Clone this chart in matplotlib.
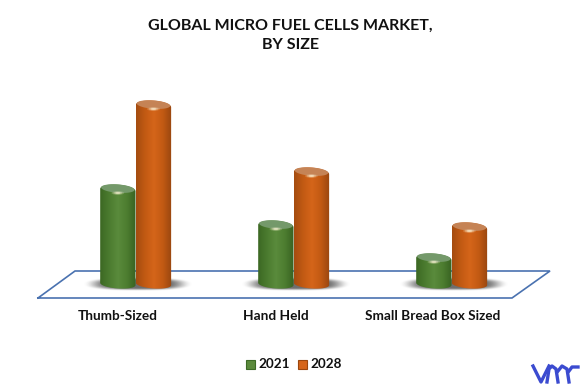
import numpy as np
import matplotlib
matplotlib.use("Agg")
import matplotlib.pyplot as plt
from matplotlib.patches import PathPatch, Rectangle
from matplotlib.path import Path
from matplotlib.colors import LinearSegmentedColormap

categories = ["Thumb-Sized", "Hand Held", "Small Bread Box Sized"]
years = ["2021", "2028"]
values_2021 = [94, 58, 25]
values_2028 = [178, 111, 56]
title = "GLOBAL MICRO FUEL CELLS MARKET,\nBY SIZE"

W, H = 581, 386
BAR_W = 0.2235
RX = BAR_W / 2
RY = 6.0
TILT_DATA = 1.2
plt.rcParams["font.family"] = ["Lato", "DejaVu Sans"]

fig = plt.figure(figsize=(W / 100, H / 100), dpi=100)
ax = fig.add_axes([0, 0, 1, 1])
xlim = (-135.5 / 158, (W - 135.5) / 158)
ylim = (284 - H, 284)
ax.axis("off")

# floor
ax.plot([(38 - 135.5) / 158, (75 - 135.5) / 158, (550 - 135.5) / 158, (512 - 135.5) / 158,
         (38 - 135.5) / 158], [-14, 13, 13, -14, -14], color="#4a72b0", lw=1.2, zorder=1,
        solid_joinstyle="miter")

# shadows
def shadow(c):
    xs = np.linspace(-1, 1, 240)
    ys = np.linspace(-1, 1, 60)
    X, Y = np.meshgrid(xs, ys)
    d = np.sqrt(np.abs(X) ** 2.6 + (np.abs(Y) * 1.0) ** 2.6)
    a = np.clip((1 - d) / 0.55, 0, 1)
    a = a * a * (3 - 2 * a)
    img = np.zeros(a.shape + (4,))
    img[..., :3] = 0.40
    img[..., 3] = a * 0.95
    ax.imshow(img, extent=(c - 0.33, c + 0.36, -7.5, 6.5), aspect="auto", zorder=2,
              interpolation="bilinear")

def cylinder(xc, v, stops, top_col):
    cmap = LinearSegmentedColormap.from_list("c", stops)
    grad = np.linspace(0, 1, 128)[None, :]
    left, right = xc - RX, xc + RX
    im = ax.imshow(grad, cmap=cmap, extent=(left, right, -6, v + 8), aspect="auto", zorder=3,
                   vmin=0, vmax=1, interpolation="bilinear")
    t = np.linspace(np.pi, 2 * np.pi, 40)
    bx = xc + RX * np.cos(t)
    by = RY * np.sin(t) * 0.75 - TILT_DATA * np.cos(t)
    tt = np.linspace(0, np.pi, 40)
    tx = xc + RX * np.cos(tt)
    ty = v + RY * np.sin(tt) * 0.9 - TILT_DATA * np.cos(tt)
    verts = list(zip(bx, by)) + list(zip(tx, ty)) + [(bx[0], by[0])]
    codes = [Path.MOVETO] + [Path.LINETO] * (len(verts) - 1)
    clip = PathPatch(Path(verts, codes), transform=ax.transData, fc="none", ec="none", lw=0.0)
    ax.add_patch(clip)
    im.set_clip_path(clip)
    # cap
    tt = np.linspace(0, 2 * np.pi, 60)
    ax.fill(xc + RX * 0.95 * np.cos(tt), v + 1.4 + RY * 0.70 * np.sin(tt) - TILT_DATA * np.cos(tt),
            color=top_col, zorder=5, lw=0)
    # soft highlight on the cap's front rim
    for scale, alpha in [(0.36, 0.2), (0.26, 0.35), (0.15, 0.7)]:
        ax.fill(xc + RX * scale * np.cos(tt), v - 3.0 + 1.9 * scale / 0.36 * np.sin(tt),
                color="#fff6d8", alpha=alpha, zorder=6, lw=0)

GREEN = ["#3c6823", "#4b7b2f", "#5a8b3c", "#4d7d30", "#386222"]
ORANGE = ["#a44c10", "#c25a13", "#d5651a", "#c25a13", "#984610"]
for i, (a, b) in enumerate(zip(values_2021, values_2028)):
    shadow(i)
    cylinder(i - BAR_W / 2, a, GREEN, "#74996a")
    cylinder(i + BAR_W / 2 + 0.002, b, ORANGE, "#c58355")

ax.set_xlim(*xlim)
ax.set_ylim(*ylim)

# category labels
for i, cat in enumerate(categories):
    ax.text([117.5, 275.5, 433][i] / 158 - 135.5 / 158, 284 - 316, cat, ha="center", va="center",
            fontsize=9.8, fontweight="bold", color="#111111")

fig.text(290.5 / W, 1 - 35.5 / H, title, ha="center", va="center", fontsize=11.5,
         fontweight="bold", color="#111111", linespacing=1.52)

# legend
for x0, x_txt, yr, col, col2 in [(246, 258.5, years[0], "#5b8a3c", "#3d6a26"),
                                 (298, 310.5, years[1], "#d6651a", "#9a460e")]:
    fig.add_artist(Rectangle((x0 / W, 1 - 369 / H), 9 / W, 9 / H, transform=fig.transFigure,
                             fc=col, ec=col2, lw=0.8))
    fig.text(x_txt / W, 1 - 364.5 / H, yr, ha="left", va="center", fontsize=9.7,
             fontweight="bold", color="#111111")

# logo
logo = [[(533, 366), (541, 382), (549, 366)],
        [(547, 382), (549, 369), (552, 366), (556, 369), (558, 382)],
        [(558, 371), (562, 366), (567, 369), (569, 382)],
        [(569, 371), (572, 367), (578, 367)]]
for seg in logo:
    xs, ys = zip(*seg)
    fig.add_artist(plt.Line2D([x / W for x in xs], [1 - y / H for y in ys], color="#3b4bd0", lw=2.4,
                              transform=fig.transFigure))

fig.savefig("out.png", dpi=100, facecolor="white")
